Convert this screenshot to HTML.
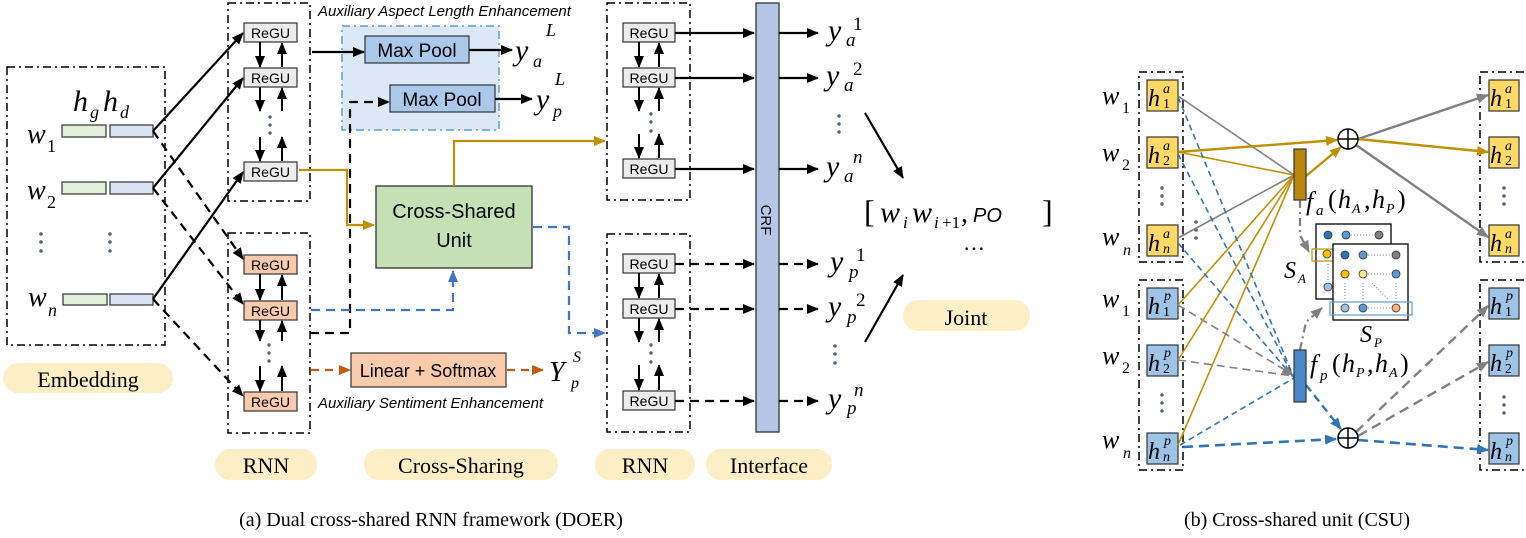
<!DOCTYPE html>
<html><head><meta charset="utf-8"><style>
html,body{margin:0;padding:0;background:#fff;}
svg{display:block;}
.s{font-family:"Liberation Sans",sans-serif;}
.m{font-family:"Liberation Serif",serif;font-style:italic;}
.r{font-family:"Liberation Serif",serif;}
</style></head><body>
<svg width="1526" height="538" viewBox="0 0 1526 538" xmlns="http://www.w3.org/2000/svg">
<defs>
<marker id="ak" markerUnits="userSpaceOnUse" markerWidth="12" markerHeight="10" refX="11" refY="5" orient="auto"><path d="M0,0 L12,5 L0,10 z" fill="#000"/></marker>
<marker id="ag" markerUnits="userSpaceOnUse" markerWidth="12" markerHeight="10" refX="11" refY="5" orient="auto"><path d="M0,0 L12,5 L0,10 z" fill="#c09000"/></marker>
<marker id="ab" markerUnits="userSpaceOnUse" markerWidth="12" markerHeight="10" refX="11" refY="5" orient="auto"><path d="M0,0 L12,5 L0,10 z" fill="#4472c4"/></marker>
<marker id="ab2" markerUnits="userSpaceOnUse" markerWidth="12" markerHeight="10" refX="11" refY="5" orient="auto"><path d="M0,0 L12,5 L0,10 z" fill="#2e75b6"/></marker>
<marker id="ay" markerUnits="userSpaceOnUse" markerWidth="12" markerHeight="10" refX="11" refY="5" orient="auto"><path d="M0,0 L12,5 L0,10 z" fill="#808080"/></marker>
<marker id="ao" markerUnits="userSpaceOnUse" markerWidth="12" markerHeight="10" refX="11" refY="5" orient="auto"><path d="M0,0 L12,5 L0,10 z" fill="#c55a11"/></marker>
</defs>

<!-- ===== (a) ===== -->
<!-- Embedding -->
<rect x="7" y="67" width="158" height="278" fill="none" stroke="#000" stroke-width="1.5" stroke-dasharray="8 4 2 4"/>
<text x="73" y="111" class="m" font-size="30">h</text><text x="90" y="118" class="m" font-size="18">g</text>
<text x="103" y="111" class="m" font-size="30">h</text><text x="120" y="118" class="m" font-size="18">d</text>
<text x="27" y="143" class="m" font-size="28">w</text><text x="47" y="152" class="r" font-size="18">1</text>
<text x="27" y="199" class="m" font-size="28">w</text><text x="47" y="208" class="r" font-size="18">2</text>
<text x="28" y="306" class="m" font-size="28">w</text><text x="48" y="316" class="m" font-size="18">n</text>
<g stroke="#333" stroke-width="1.2">
<rect x="62" y="125" width="44" height="12" fill="#e2f0d9"/><rect x="110" y="125" width="43" height="12" fill="#dae3f3"/>
<rect x="62" y="182" width="44" height="12" fill="#e2f0d9"/><rect x="110" y="182" width="43" height="12" fill="#dae3f3"/>
<rect x="63" y="294" width="44" height="11" fill="#e2f0d9"/><rect x="110" y="294" width="43" height="11" fill="#dae3f3"/>
</g>
<g fill="#5a6478"><circle cx="41" cy="234" r="1.8"/><circle cx="41" cy="242" r="1.8"/><circle cx="41" cy="251" r="1.8"/>
<circle cx="110" cy="234" r="1.8"/><circle cx="110" cy="242" r="1.8"/><circle cx="110" cy="251" r="1.8"/></g>
<rect x="3" y="363" width="170" height="30" rx="15" fill="#fcefc6"/>
<text x="88" y="387" class="r" font-size="22" text-anchor="middle">Embedding</text>

<!-- embedding to RNN -->
<g stroke="#000" stroke-width="2.2" fill="none">
<line x1="153" y1="131" x2="243" y2="33" marker-end="url(#ak)"/>
<line x1="153" y1="188" x2="243" y2="78" marker-end="url(#ak)"/>
<line x1="153" y1="299" x2="243" y2="172" marker-end="url(#ak)"/>
<g stroke-dasharray="9 6">
<line x1="153" y1="131" x2="243" y2="259" marker-end="url(#ak)"/>
<line x1="153" y1="188" x2="243" y2="304" marker-end="url(#ak)"/>
<line x1="153" y1="299" x2="243" y2="396" marker-end="url(#ak)"/>
</g></g>

<!-- RNN columns -->
<g id="colA">
<rect x="228" y="3" width="82" height="198" fill="none" stroke="#000" stroke-width="1.5" stroke-dasharray="8 4 2 4"/>
<rect x="228" y="233" width="82" height="200" fill="none" stroke="#000" stroke-width="1.5" stroke-dasharray="8 4 2 4"/>
</g>
<rect x="607" y="3" width="83" height="197" fill="none" stroke="#000" stroke-width="1.5" stroke-dasharray="8 4 2 4"/>
<rect x="607" y="234" width="83" height="198" fill="none" stroke="#000" stroke-width="1.5" stroke-dasharray="8 4 2 4"/>

<!-- left top column ReGUs -->
<g class="s" font-size="14" text-anchor="middle">
<g stroke="#333" stroke-width="1.2">
<rect x="244" y="23" width="53" height="19" fill="#ececec"/>
<rect x="244" y="68" width="53" height="19" fill="#ececec"/>
<rect x="244" y="162" width="53" height="19" fill="#ececec"/>
<rect x="244" y="255" width="53" height="19" fill="#f8cbad"/>
<rect x="244" y="301" width="53" height="19" fill="#f8cbad"/>
<rect x="244" y="392" width="53" height="19" fill="#f8cbad"/>
<rect x="623" y="23" width="52" height="19" fill="#ececec"/>
<rect x="623" y="68" width="52" height="19" fill="#ececec"/>
<rect x="623" y="159" width="52" height="19" fill="#ececec"/>
<rect x="623" y="254" width="52" height="19" fill="#ececec"/>
<rect x="623" y="299" width="52" height="19" fill="#ececec"/>
<rect x="623" y="391" width="52" height="19" fill="#ececec"/>
</g>
<text x="270.5" y="38">ReGU</text><text x="270.5" y="83">ReGU</text><text x="270.5" y="177">ReGU</text>
<text x="270.5" y="270">ReGU</text><text x="270.5" y="316">ReGU</text><text x="270.5" y="407">ReGU</text>
<text x="649" y="38">ReGU</text><text x="649" y="83">ReGU</text><text x="649" y="174">ReGU</text>
<text x="649" y="269">ReGU</text><text x="649" y="314">ReGU</text><text x="649" y="406">ReGU</text>
</g>
<!-- internal arrows -->
<g stroke="#000" stroke-width="2" fill="none">
<g transform="translate(0,0)">
<line x1="260" y1="42" x2="260" y2="67" marker-end="url(#ak)"/><line x1="282" y1="67" x2="282" y2="43" marker-end="url(#ak)"/>
<line x1="260" y1="87" x2="260" y2="111" marker-end="url(#ak)"/><line x1="282" y1="111" x2="282" y2="88" marker-end="url(#ak)"/>
<line x1="260" y1="137" x2="260" y2="161" marker-end="url(#ak)"/><line x1="282" y1="161" x2="282" y2="137" marker-end="url(#ak)"/>
</g>
<g transform="translate(0,233)">
<line x1="260" y1="41" x2="260" y2="67" marker-end="url(#ak)"/><line x1="282" y1="67" x2="282" y2="42" marker-end="url(#ak)"/>
<line x1="260" y1="87" x2="260" y2="108" marker-end="url(#ak)"/><line x1="282" y1="108" x2="282" y2="88" marker-end="url(#ak)"/>
<line x1="260" y1="133" x2="260" y2="158" marker-end="url(#ak)"/><line x1="282" y1="158" x2="282" y2="133" marker-end="url(#ak)"/>
</g>
<g transform="translate(379,0)">
<line x1="260" y1="42" x2="260" y2="67" marker-end="url(#ak)"/><line x1="280" y1="67" x2="280" y2="43" marker-end="url(#ak)"/>
<line x1="260" y1="87" x2="260" y2="111" marker-end="url(#ak)"/><line x1="280" y1="111" x2="280" y2="88" marker-end="url(#ak)"/>
<line x1="260" y1="134" x2="260" y2="158" marker-end="url(#ak)"/><line x1="280" y1="158" x2="280" y2="134" marker-end="url(#ak)"/>
</g>
<g transform="translate(379,231)">
<line x1="260" y1="42" x2="260" y2="67" marker-end="url(#ak)"/><line x1="280" y1="67" x2="280" y2="43" marker-end="url(#ak)"/>
<line x1="260" y1="87" x2="260" y2="111" marker-end="url(#ak)"/><line x1="280" y1="111" x2="280" y2="88" marker-end="url(#ak)"/>
<line x1="260" y1="134" x2="260" y2="159" marker-end="url(#ak)"/><line x1="280" y1="159" x2="280" y2="134" marker-end="url(#ak)"/>
</g>
</g>
<g fill="#5a6478">
<circle cx="270" cy="117" r="1.7"/><circle cx="270" cy="125" r="1.7"/><circle cx="270" cy="133" r="1.7"/>
<circle cx="269" cy="345" r="1.7"/><circle cx="269" cy="353" r="1.7"/><circle cx="269" cy="361" r="1.7"/>
<circle cx="651" cy="114" r="1.7"/><circle cx="651" cy="122" r="1.7"/><circle cx="651" cy="131" r="1.7"/>
<circle cx="651" cy="345" r="1.7"/><circle cx="651" cy="353" r="1.7"/><circle cx="651" cy="362" r="1.7"/>
</g>

<!-- Aux aspect length -->
<text x="318" y="16" class="s" font-size="15" font-style="italic">Auxiliary Aspect Length Enhancement</text>
<rect x="342" y="26" width="157" height="104" fill="#dce8f6" stroke="#5b9bd5" stroke-width="1.5" stroke-dasharray="8 4 2 4"/>
<rect x="365" y="36" width="104" height="27" fill="#a9c8ea" stroke="#333" stroke-width="1.2"/>
<text x="417" y="57" class="s" font-size="19" text-anchor="middle">Max Pool</text>
<rect x="390" y="85" width="105" height="27" fill="#a9c8ea" stroke="#333" stroke-width="1.2"/>
<text x="442" y="106" class="s" font-size="19" text-anchor="middle">Max Pool</text>
<g stroke="#000" stroke-width="2.2" fill="none">
<line x1="312" y1="52" x2="364" y2="52" marker-end="url(#ak)"/>
<line x1="469" y1="50" x2="512" y2="50" marker-end="url(#ak)"/>
<line x1="495" y1="99" x2="532" y2="99" marker-end="url(#ak)"/>
<path d="M310,333 L350,333 L350,102 L389,102" stroke-dasharray="9 6" marker-end="url(#ak)"/>
</g>
<text x="515" y="60" class="m" font-size="30">y</text><text x="546" y="36" class="m" font-size="18">L</text><text x="533" y="67" class="m" font-size="18">a</text>
<text x="536" y="109" class="m" font-size="30">y</text><text x="555" y="85" class="m" font-size="18">L</text><text x="553" y="117" class="m" font-size="18">p</text>

<!-- Cross-Shared Unit -->
<rect x="376" y="186" width="156" height="82" fill="#c5e0b4" stroke="#333" stroke-width="1.3"/>
<text x="454" y="218" class="s" font-size="20" text-anchor="middle">Cross-Shared</text>
<text x="454" y="247" class="s" font-size="20" text-anchor="middle">Unit</text>
<g fill="none" stroke-width="2.2">
<path d="M299,170 L347,170 L347,225 L374,225" stroke="#c09000" marker-end="url(#ag)"/>
<path d="M454,186 L454,141 L605,141" stroke="#c09000" marker-end="url(#ag)"/>
<path d="M311,310 L453,310 L453,271" stroke="#4472c4" stroke-dasharray="9 6" marker-end="url(#ab)"/>
<path d="M533,227 L569,227 L569,333 L605,333" stroke="#4472c4" stroke-dasharray="9 6" marker-end="url(#ab)"/>
<line x1="311" y1="370" x2="350" y2="370" stroke="#c55a11" stroke-dasharray="8 6" marker-end="url(#ao)"/>
<line x1="507" y1="370" x2="543" y2="370" stroke="#c55a11" stroke-dasharray="8 6" marker-end="url(#ao)"/>
</g>
<rect x="351" y="353" width="155" height="34" fill="#f8cbad" stroke="#333" stroke-width="1.2"/>
<text x="428" y="377" class="s" font-size="18" text-anchor="middle">Linear + Softmax</text>
<text x="549" y="381" class="m" font-size="28">Y</text><text x="573" y="362" class="m" font-size="16">S</text><text x="571" y="388" class="m" font-size="16">p</text>
<text x="318" y="408" class="s" font-size="15" font-style="italic">Auxiliary Sentiment Enhancement</text>

<!-- CRF -->
<rect x="756" y="3" width="23" height="429" fill="#b4c7e7" stroke="#333" stroke-width="1.3"/>
<text transform="translate(761,220) rotate(90)" class="s" font-size="15" text-anchor="middle">CRF</text>
<g stroke="#000" stroke-width="2.2" fill="none">
<line x1="675" y1="33" x2="754" y2="33" marker-end="url(#ak)"/>
<line x1="675" y1="78" x2="754" y2="78" marker-end="url(#ak)"/>
<line x1="675" y1="169" x2="754" y2="169" marker-end="url(#ak)"/>
<line x1="779" y1="33" x2="818" y2="33" marker-end="url(#ak)"/>
<line x1="779" y1="78" x2="818" y2="78" marker-end="url(#ak)"/>
<line x1="779" y1="169" x2="818" y2="169" marker-end="url(#ak)"/>
<g stroke-dasharray="9 6">
<line x1="675" y1="264" x2="754" y2="264" marker-end="url(#ak)"/>
<line x1="675" y1="309" x2="754" y2="309" marker-end="url(#ak)"/>
<line x1="675" y1="401" x2="754" y2="401" marker-end="url(#ak)"/>
<line x1="779" y1="264" x2="818" y2="264" marker-end="url(#ak)"/>
<line x1="779" y1="309" x2="818" y2="309" marker-end="url(#ak)"/>
<line x1="779" y1="401" x2="818" y2="401" marker-end="url(#ak)"/>
</g>
<line x1="865" y1="113" x2="903" y2="178" marker-end="url(#ak)"/>
<line x1="865" y1="342" x2="903" y2="275" marker-end="url(#ak)"/>
</g>
<g class="m">
<text x="828" y="40" font-size="30">y</text><text x="853" y="30" class="r" font-size="19" font-style="normal">1</text><text x="846" y="46" font-size="19">a</text>
<text x="826" y="85" font-size="30">y</text><text x="853" y="75" class="r" font-size="19" font-style="normal">2</text><text x="844" y="91" font-size="19">a</text>
<text x="826" y="176" font-size="30">y</text><text x="853" y="163" font-size="19">n</text><text x="844" y="182" font-size="19">a</text>
<text x="830" y="271" font-size="30">y</text><text x="856" y="261" class="r" font-size="19" font-style="normal">1</text><text x="849" y="278" font-size="19">p</text>
<text x="828" y="316" font-size="30">y</text><text x="856" y="306" class="r" font-size="19" font-style="normal">2</text><text x="847" y="323" font-size="19">p</text>
<text x="828" y="408" font-size="30">y</text><text x="854" y="396" font-size="19">n</text><text x="847" y="414" font-size="19">p</text>
</g>
<g fill="#5a6478">
<circle cx="839" cy="116" r="1.8"/><circle cx="839" cy="124" r="1.8"/><circle cx="839" cy="132" r="1.8"/>
<circle cx="835" cy="346" r="1.8"/><circle cx="835" cy="354" r="1.8"/><circle cx="835" cy="363" r="1.8"/>
</g>
<text x="864" y="222" class="r" font-size="32">[</text>
<text x="880" y="222" class="m" font-size="30">w</text><text x="903" y="228" class="m" font-size="17">i</text>
<text x="912" y="222" class="m" font-size="30">w</text><text x="934" y="228" class="m" font-size="17">i</text><text x="942" y="228" class="r" font-size="17">+1</text>
<text x="961" y="222" class="r" font-size="28">,</text>
<text x="973" y="222" class="s" font-size="20" font-style="italic">PO</text>
<text x="1042" y="222" class="r" font-size="32">]</text>
<text x="963" y="256" class="r" font-size="22">···</text>
<rect x="903" y="300" width="127" height="31" rx="15" fill="#fcefc6"/>
<text x="966" y="325" class="r" font-size="22" text-anchor="middle">Joint</text>

<!-- bottom pills -->
<rect x="215" y="449" width="102" height="31" rx="15" fill="#fcefc6"/>
<text x="266" y="473" class="r" font-size="22" text-anchor="middle">RNN</text>
<rect x="364" y="449" width="194" height="31" rx="15" fill="#fcefc6"/>
<text x="461" y="473" class="r" font-size="22" text-anchor="middle">Cross-Sharing</text>
<rect x="595" y="449" width="100" height="31" rx="15" fill="#fcefc6"/>
<text x="645" y="473" class="r" font-size="22" text-anchor="middle">RNN</text>
<rect x="706" y="449" width="126" height="31" rx="15" fill="#fcefc6"/>
<text x="769" y="473" class="r" font-size="22" text-anchor="middle">Interface</text>

<text x="431" y="526" class="r" font-size="20" text-anchor="middle">(a) Dual cross-shared RNN framework (DOER)</text>
<text x="1297" y="526" class="r" font-size="20" text-anchor="middle">(b) Cross-shared unit (CSU)</text>

<!-- ===== (b) ===== -->
<g fill="none" stroke="#000" stroke-width="1.5" stroke-dasharray="8 4 2 4">
<rect x="1139" y="72" width="44" height="190"/>
<rect x="1139" y="280" width="44" height="190"/>
<rect x="1480" y="72" width="50" height="190"/>
<rect x="1480" y="280" width="50" height="190"/>
</g>
<g stroke="#333" stroke-width="1.2">
<rect x="1147" y="80" width="31" height="31" fill="#ffd966"/>
<rect x="1147" y="137" width="31" height="31" fill="#ffd966"/>
<rect x="1147" y="225" width="31" height="31" fill="#ffd966"/>
<rect x="1147" y="288" width="31" height="31" fill="#9dc3e6"/>
<rect x="1147" y="345" width="31" height="31" fill="#9dc3e6"/>
<rect x="1147" y="433" width="31" height="31" fill="#9dc3e6"/>
<rect x="1489" y="80" width="30" height="31" fill="#ffd966"/>
<rect x="1489" y="137" width="30" height="31" fill="#ffd966"/>
<rect x="1489" y="225" width="30" height="31" fill="#ffd966"/>
<rect x="1489" y="288" width="30" height="31" fill="#9dc3e6"/>
<rect x="1489" y="345" width="30" height="31" fill="#9dc3e6"/>
<rect x="1489" y="433" width="30" height="31" fill="#9dc3e6"/>
</g>
<g class="m">
<g font-size="24">
<text x="1148" y="106">h</text><text x="1148" y="163">h</text><text x="1148" y="251">h</text>
<text x="1148" y="314">h</text><text x="1148" y="371">h</text><text x="1148" y="459">h</text>
<text x="1490" y="106">h</text><text x="1490" y="163">h</text><text x="1490" y="251">h</text>
<text x="1490" y="314">h</text><text x="1490" y="371">h</text><text x="1490" y="459">h</text>
</g>
<g font-size="14">
<text x="1163" y="93">a</text><text x="1163" y="150">a</text><text x="1163" y="238">a</text>
<text x="1164" y="300">p</text><text x="1164" y="357">p</text><text x="1164" y="445">p</text>
<text x="1505" y="93">a</text><text x="1505" y="150">a</text><text x="1505" y="238">a</text>
<text x="1506" y="300">p</text><text x="1506" y="357">p</text><text x="1506" y="445">p</text>
<text x="1163" y="108" class="r" font-style="normal">1</text><text x="1163" y="165" class="r" font-style="normal">2</text><text x="1163" y="253">n</text>
<text x="1163" y="316" class="r" font-style="normal">1</text><text x="1163" y="373" class="r" font-style="normal">2</text><text x="1163" y="461">n</text>
<text x="1505" y="108" class="r" font-style="normal">1</text><text x="1505" y="165" class="r" font-style="normal">2</text><text x="1505" y="253">n</text>
<text x="1505" y="316" class="r" font-style="normal">1</text><text x="1505" y="373" class="r" font-style="normal">2</text><text x="1505" y="461">n</text>
</g>
<g font-size="26">
<text x="1102" y="104">w</text><text x="1102" y="161">w</text><text x="1102" y="245">w</text>
<text x="1102" y="307">w</text><text x="1102" y="364">w</text><text x="1102" y="448">w</text>
</g>
<g font-size="16">
<text x="1122" y="113" class="r" font-style="normal">1</text><text x="1122" y="170" class="r" font-style="normal">2</text><text x="1123" y="255">n</text>
<text x="1122" y="316" class="r" font-style="normal">1</text><text x="1122" y="373" class="r" font-style="normal">2</text><text x="1123" y="458">n</text>
</g>
</g>
<g fill="#5a6478">
<circle cx="1162" cy="188" r="1.8"/><circle cx="1162" cy="196" r="1.8"/><circle cx="1162" cy="204" r="1.8"/>
<circle cx="1162" cy="395" r="1.8"/><circle cx="1162" cy="403" r="1.8"/><circle cx="1162" cy="411" r="1.8"/>
<circle cx="1196" cy="222" r="1.8"/><circle cx="1196" cy="230" r="1.8"/><circle cx="1196" cy="238" r="1.8"/>
<circle cx="1504" cy="188" r="1.8"/><circle cx="1504" cy="196" r="1.8"/><circle cx="1504" cy="204" r="1.8"/>
<circle cx="1504" cy="397" r="1.8"/><circle cx="1504" cy="405" r="1.8"/><circle cx="1504" cy="413" r="1.8"/>
</g>

<!-- lines to fa -->
<g fill="none" stroke-width="1.6">
<line x1="1178" y1="96" x2="1294" y2="175" stroke="#808080"/>
<line x1="1178" y1="238" x2="1294" y2="175" stroke="#808080"/>
<line x1="1178" y1="152" x2="1294" y2="175" stroke="#c09000"/>
<line x1="1178" y1="305" x2="1294" y2="175" stroke="#c09000"/>
<line x1="1178" y1="360" x2="1294" y2="175" stroke="#c09000"/>
<line x1="1178" y1="445" x2="1294" y2="175" stroke="#c09000"/>
<g stroke="#2e75b6" stroke-dasharray="6 4">
<line x1="1178" y1="97" x2="1294" y2="378"/>
<line x1="1178" y1="154" x2="1294" y2="378"/>
<line x1="1178" y1="243" x2="1294" y2="378"/>
<line x1="1180" y1="445" x2="1294" y2="378"/>
</g>
<g stroke="#808080" stroke-dasharray="8 5">
<line x1="1178" y1="305" x2="1293" y2="375" marker-end="url(#ay)"/>
<line x1="1178" y1="360" x2="1293" y2="376"/>
</g>
<line x1="1178" y1="152" x2="1337" y2="140" stroke="#c09000" stroke-width="2.4" marker-end="url(#ag)"/>
<line x1="1306" y1="176" x2="1341" y2="147" stroke="#c09000" stroke-width="2.4" marker-end="url(#ag)"/>
<line x1="1358" y1="139" x2="1488" y2="95" stroke="#808080" stroke-width="2.4" marker-end="url(#ay)"/>
<line x1="1358" y1="139" x2="1488" y2="152" stroke="#c09000" stroke-width="2.4" marker-end="url(#ag)"/>
<line x1="1356" y1="145" x2="1488" y2="237" stroke="#808080" stroke-width="2.4" marker-end="url(#ay)"/>
<line x1="1306" y1="385" x2="1341" y2="429" stroke="#2e75b6" stroke-width="2.4" stroke-dasharray="8 5" marker-end="url(#ab2)"/>
<line x1="1183" y1="447" x2="1336" y2="439" stroke="#2e75b6" stroke-width="2.6" stroke-dasharray="10 6" marker-end="url(#ab2)"/>
<line x1="1358" y1="440" x2="1488" y2="450" stroke="#2e75b6" stroke-width="2.6" stroke-dasharray="10 6" marker-end="url(#ab2)"/>
<line x1="1356" y1="432" x2="1488" y2="306" stroke="#808080" stroke-width="2.4" stroke-dasharray="10 6" marker-end="url(#ay)"/>
<line x1="1358" y1="436" x2="1488" y2="362" stroke="#808080" stroke-width="2.4" stroke-dasharray="10 6" marker-end="url(#ay)"/>
<path d="M1300,200 L1300,235 L1309,252" stroke="#808080" stroke-width="2.2" stroke-dasharray="8 4 2 4" marker-end="url(#ay)"/>
<path d="M1300,350 L1306,322 L1322,308" stroke="#808080" stroke-width="2.2" stroke-dasharray="8 4 2 4" marker-end="url(#ay)"/>
</g>
<rect x="1294" y="149" width="12" height="51" fill="#b8860b" stroke="#333" stroke-width="1.2"/>
<rect x="1294" y="350" width="12" height="52" fill="#4a86c8" stroke="#333" stroke-width="1.2"/>
<g stroke="#000" stroke-width="1.5" fill="#fff">
<circle cx="1348" cy="139" r="10"/><circle cx="1348" cy="438" r="10"/>
</g>
<g stroke="#000" stroke-width="1.5">
<line x1="1338" y1="139" x2="1358" y2="139"/><line x1="1348" y1="129" x2="1348" y2="149"/>
<line x1="1338" y1="438" x2="1358" y2="438"/><line x1="1348" y1="428" x2="1348" y2="448"/>
</g>
<!-- labels f -->
<text x="1306" y="210" class="m" font-size="26">f</text><text x="1316" y="215" class="m" font-size="15">a</text>
<text x="1328" y="208" class="r" font-size="26">(</text><text x="1338" y="208" class="m" font-size="26">h</text><text x="1352" y="213" class="m" font-size="14">A</text>
<text x="1364" y="208" class="r" font-size="26">,</text><text x="1372" y="208" class="m" font-size="26">h</text><text x="1386" y="213" class="m" font-size="14">P</text><text x="1397" y="208" class="r" font-size="26">)</text>
<text x="1310" y="373" class="m" font-size="26">f</text><text x="1320" y="380" class="m" font-size="15">p</text>
<text x="1332" y="372" class="r" font-size="26">(</text><text x="1342" y="372" class="m" font-size="26">h</text><text x="1356" y="377" class="m" font-size="14">P</text>
<text x="1367" y="372" class="r" font-size="26">,</text><text x="1375" y="372" class="m" font-size="26">h</text><text x="1389" y="377" class="m" font-size="14">A</text><text x="1400" y="372" class="r" font-size="26">)</text>
<!-- matrices -->
<rect x="1316" y="224" width="75" height="75" fill="#fff" stroke="#000" stroke-width="1.3"/>
<rect x="1312" y="249" width="24" height="12" fill="none" stroke="#c09000" stroke-width="1.2"/>
<circle cx="1328" cy="235" r="4" fill="#2e75b6" stroke="#333" stroke-width="0.8"/>
<circle cx="1346" cy="235" r="4" fill="#5b9bd5" stroke="#333" stroke-width="0.8"/>
<circle cx="1379" cy="235" r="4" fill="#808080" stroke="#333" stroke-width="0.8"/>
<circle cx="1327" cy="254" r="4" fill="#ffc000" stroke="#333" stroke-width="0.8"/>
<circle cx="1328" cy="287" r="4" fill="#9dc3e6" stroke="#333" stroke-width="0.8"/>
<rect x="1333" y="244" width="75" height="76" fill="#fff" stroke="#000" stroke-width="1.3"/>
<g stroke="#333" stroke-width="0.8">
<circle cx="1345" cy="255" r="4" fill="#2e75b6"/><circle cx="1363" cy="255" r="4" fill="#5b9bd5"/><circle cx="1396" cy="255" r="4" fill="#808080"/>
<circle cx="1345" cy="274" r="4" fill="#ffc000"/><circle cx="1363" cy="274" r="4" fill="#ffe699"/><circle cx="1396" cy="274" r="4" fill="#5b9bd5"/>
<circle cx="1345" cy="308" r="4" fill="#9dc3e6"/><circle cx="1363" cy="308" r="4" fill="#5b9bd5"/><circle cx="1396" cy="308" r="4" fill="#f4b183"/>
</g>
<rect x="1330" y="302" width="82" height="13" fill="none" stroke="#5b9bd5" stroke-width="1.2"/>
<g stroke="#666" stroke-width="0.8" stroke-dasharray="1 2">
<line x1="1351" y1="235" x2="1374" y2="235"/><line x1="1368" y1="255" x2="1391" y2="255"/><line x1="1368" y1="274" x2="1391" y2="274"/><line x1="1368" y1="308" x2="1391" y2="308"/>
<line x1="1345" y1="283" x2="1345" y2="300"/><line x1="1363" y1="283" x2="1363" y2="300"/><line x1="1396" y1="283" x2="1396" y2="300"/><line x1="1372" y1="283" x2="1388" y2="299"/>
<line x1="1328" y1="264" x2="1328" y2="280"/>
</g>
<text x="1284" y="278" class="m" font-size="24">S</text><text x="1298" y="283" class="m" font-size="13">A</text>
<text x="1360" y="342" class="m" font-size="24">S</text><text x="1374" y="347" class="m" font-size="13">P</text>
</svg>
</body></html>
